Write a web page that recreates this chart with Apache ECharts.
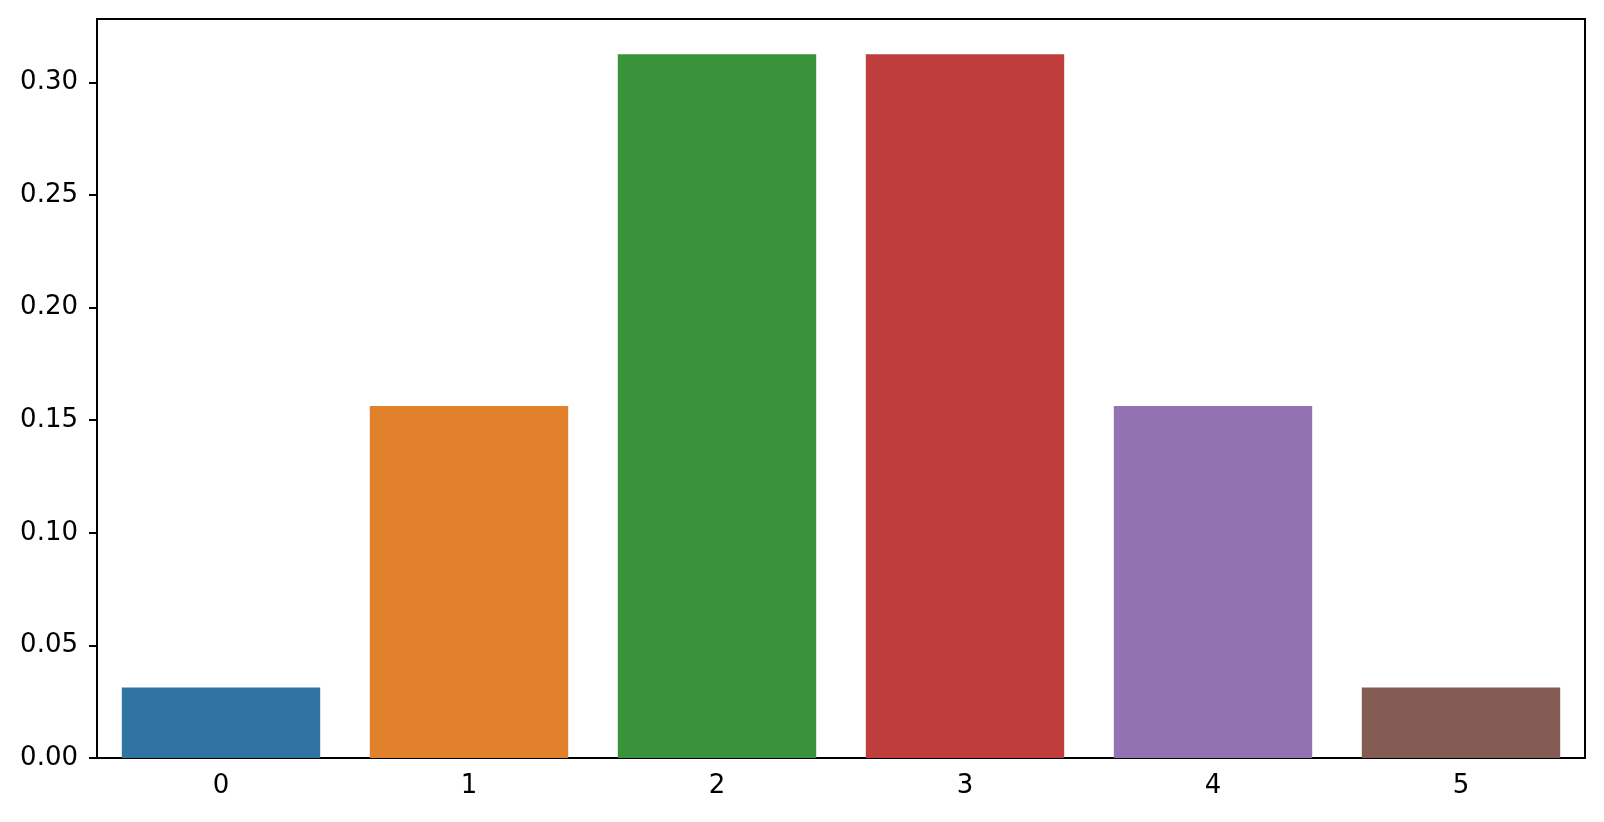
<!DOCTYPE html>
<html><head><meta charset="utf-8">
<script src="https://cdn.jsdelivr.net/npm/echarts@6/dist/echarts.min.js"></script>
<style>html,body{margin:0;padding:0;background:#fff}#c{width:1604px;height:822px}</style>
</head><body><div id="c"></div>
<script>
const categories = ['0','1','2','3','4','5'];
const values = [0.03125, 0.15625, 0.3125, 0.3125, 0.15625, 0.03125];
const barColors = ['#3274a1','#e1812c','#3a923a','#c03d3e','#9372b2','#845b53'];
const yTicks = [0, 0.05, 0.10, 0.15, 0.20, 0.25, 0.30];
const yMax = 0.328125;

const chart = echarts.init(document.getElementById('c'), null, {renderer:'canvas'});
const font = 'DejaVu Sans';
chart.setOption({
  animation:false,
  grid:{left:97,top:19,right:19,bottom:64,show:true,borderColor:'#000',borderWidth:2,containLabel:false},
  xAxis:{type:'category',data:categories,boundaryGap:true,
    axisLine:{lineStyle:{color:'#000',width:2}},
    axisTick:{alignWithLabel:true,length:8,lineStyle:{color:'#000',width:2}},
    axisLabel:{color:'#000',fontFamily:font,fontSize:26,margin:15},
    splitLine:{show:false}},
  yAxis:{type:'value',min:0,max:yMax,
    axisLine:{show:true,lineStyle:{color:'#000',width:2}},
    axisTick:{show:true,length:8,customValues:yTicks,lineStyle:{color:'#000',width:2}},
    axisLabel:{color:'#000',fontFamily:font,fontSize:26,margin:19,customValues:yTicks,
      formatter:v=>v.toFixed(2)},
    splitLine:{show:false}},
  series:[{type:'bar',barWidth:'80%',
    data:values.map((v,i)=>({value:v,itemStyle:{color:barColors[i]}}))}]
});
</script></body></html>
